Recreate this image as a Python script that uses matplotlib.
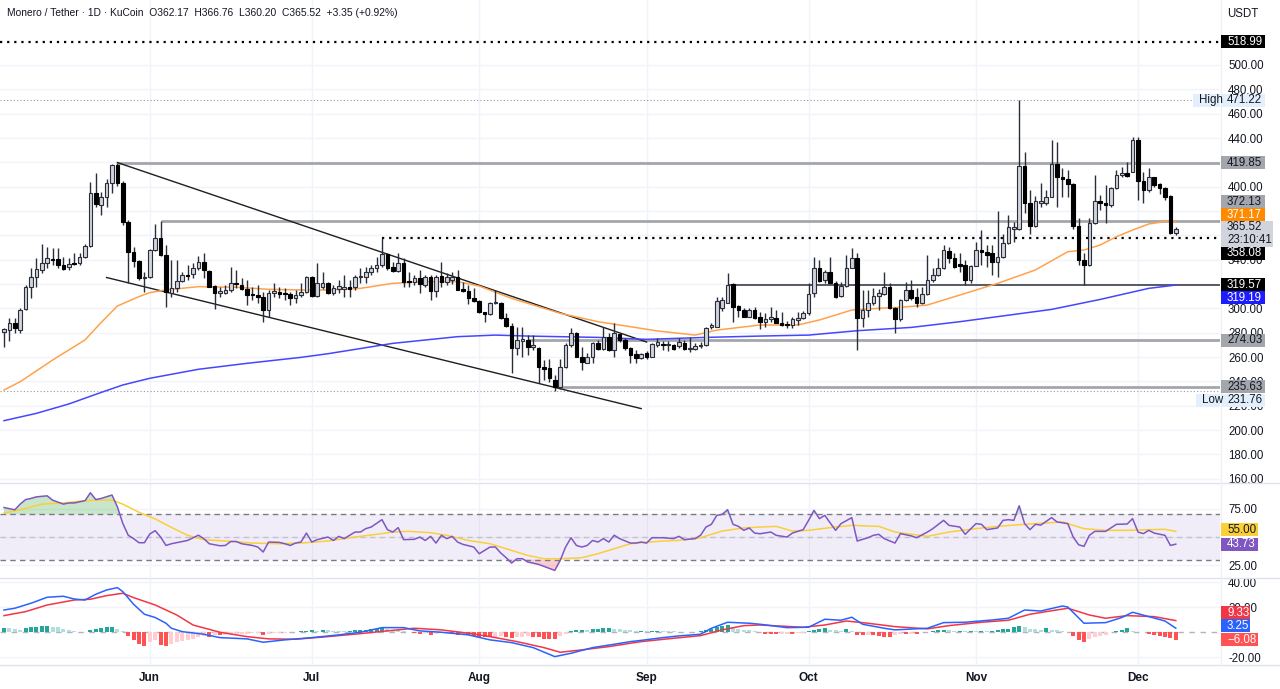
import numpy as np
import pandas as pd
import matplotlib
matplotlib.use('Agg')
import matplotlib.pyplot as plt
from matplotlib.lines import Line2D
from matplotlib.patches import Rectangle
from matplotlib.ticker import FixedLocator, FormatStrFormatter

plt.rcParams['font.family'] = ['Liberation Sans', 'DejaVu Sans']

start = '2025-05-05'

# daily OHLC, 5 May .. 8 Dec (one row per month)
opens = [
    280.7, 282.3, 287.8, 282.3, 299.3, 318.0, 326.0, 331.6, 337.1, 341.0, 340.4, 335.7, 333.8, 337.6, 337.0, 342.6, 351.3, 395.0, 385.0, 391.3, 402.8, 418.0, 402.8, 371.3, 346.7, 339.0, 325.0,
    325.6, 348.0, 357.6, 343.9, 313.0, 316.5, 322.8, 327.5, 328.3, 333.0, 338.4, 331.0, 318.4, 313.0, 312.4, 315.2, 321.0, 319.3, 315.7, 311.5, 310.8, 309.1, 298.7, 312.4, 313.8, 312.0, 311.9, 308.3, 311.1, 313.8,
    326.1, 310.5, 318.0, 320.6, 312.9, 315.7, 316.0, 318.0, 317.3, 325.5, 325.5, 330.2, 332.9, 335.7, 344.4, 334.3, 331.0, 337.6, 322.8, 322.0, 324.7, 319.2, 326.1, 314.6, 326.6, 322.0, 323.0, 325.5, 315.7, 314.3, 308.8,
    306.4, 296.8, 295.4, 304.2, 304.2, 291.8, 285.5, 267.2, 273.0, 274.0, 268.6, 267.2, 252.1, 250.8, 241.2, 235.7, 252.1, 269.9, 280.1, 260.3, 255.4, 259.8, 271.8, 266.4, 276.8, 265.8, 279.0, 274.0, 267.2, 262.3, 259.0,
    263.0, 260.3, 270.0, 270.5, 270.0, 269.9, 269.1, 271.8, 267.0, 266.9, 269.0, 270.0, 284.4, 285.0, 300.1, 304.2, 319.8, 302.0, 298.7, 293.2, 298.7, 292.6, 289.1, 291.0, 292.4, 287.7, 287.2, 286.4, 290.5, 292.4,
    295.9, 312.4, 332.9, 323.3, 330.2, 321.1, 310.2, 318.4, 333.5, 341.7, 292.4, 298.7, 304.2, 310.2, 311.8, 317.3, 300.1, 291.0, 306.9, 315.1, 309.1, 304.2, 311.8, 323.3, 327.4, 332.9, 347.4, 341.1, 336.5, 335.7, 323.3,
    334.9, 348.0, 346.6, 345.2, 338.4, 342.5, 353.5, 365.0, 365.0, 417.0, 386.9, 367.7, 386.3, 386.3, 391.8, 418.7, 407.7, 406.1, 402.2, 367.7, 339.8, 335.7, 369.9, 388.5, 386.3, 385.0, 398.7, 409.6, 411.5, 412.4,
    438.4, 404.9, 397.3, 407.7, 401.9, 398.7, 392.4, 362.17,
]
highs = [
    284.0, 292.0, 292.0, 300.0, 319.3, 333.0, 341.7, 353.0, 350.2, 349.4, 349.4, 342.6, 341.2, 345.3, 345.3, 353.0, 404.2, 411.0, 396.0, 406.1, 418.5, 419.85, 405.0, 372.7, 350.8, 339.8, 330.0,
    348.5, 369.4, 372.13, 352.0, 339.8, 339.8, 330.2, 335.7, 337.0, 343.0, 345.3, 331.6, 319.3, 317.9, 319.3, 333.8, 331.6, 324.8, 323.4, 317.9, 319.3, 313.8, 315.2, 320.6, 317.9, 316.5, 313.8, 315.2, 320.6, 326.7,
    326.7, 337.1, 330.0, 322.0, 319.2, 323.3, 327.4, 323.3, 327.4, 332.9, 334.3, 335.7, 342.5, 358.08, 345.2, 338.4, 345.2, 341.1, 330.2, 327.4, 331.6, 327.4, 327.4, 327.4, 338.4, 328.8, 330.0, 331.6, 322.0, 319.2, 316.5,
    306.9, 297.3, 305.5, 315.1, 305.5, 296.0, 287.7, 285.0, 285.0, 278.1, 278.0, 268.6, 257.6, 258.1, 245.3, 258.1, 271.3, 283.6, 280.9, 268.6, 263.1, 272.7, 274.0, 285.0, 280.1, 287.7, 280.1, 275.4, 268.6, 265.8, 263.1,
    265.0, 271.8, 275.4, 273.0, 273.0, 271.0, 275.4, 274.0, 276.8, 271.3, 272.7, 284.4, 288.0, 309.6, 309.1, 329.4, 320.6, 302.8, 300.1, 300.1, 301.4, 297.3, 295.9, 301.4, 298.7, 297.3, 290.0, 293.2, 297.3, 298.1,
    320.6, 342.5, 339.8, 331.6, 342.5, 322.8, 321.9, 343.9, 349.4, 345.2, 315.1, 315.1, 316.5, 315.7, 330.2, 321.1, 301.4, 307.5, 321.9, 323.3, 316.5, 317.9, 343.9, 332.9, 341.1, 352.1, 350.7, 345.8, 345.2, 339.8, 335.7,
    354.8, 364.4, 352.1, 352.1, 380.3, 361.1, 376.7, 371.3, 471.22, 428.8, 397.3, 392.4, 402.8, 397.3, 438.4, 437.0, 415.1, 413.7, 402.8, 374.0, 345.2, 374.0, 409.6, 393.2, 401.4, 400.0, 413.7, 416.5, 420.6, 441.1,
    441.1, 412.4, 415.1, 408.2, 402.8, 400.0, 393.2, 366.76,
]
lows = [
    268.0, 273.5, 279.6, 280.0, 298.7, 308.3, 317.9, 329.0, 333.0, 335.7, 333.0, 331.6, 331.6, 335.7, 335.7, 341.2, 350.8, 383.6, 376.8, 383.6, 394.6, 400.5, 368.6, 320.6, 334.3, 323.4, 313.8,
    324.8, 347.0, 343.0, 301.5, 309.7, 313.8, 322.0, 323.4, 324.8, 331.6, 324.8, 317.3, 299.3, 309.7, 311.9, 313.8, 316.5, 315.2, 302.9, 307.0, 304.2, 289.2, 293.3, 309.7, 308.3, 307.0, 302.9, 304.2, 309.7, 312.4,
    309.7, 309.7, 316.0, 312.0, 311.0, 312.4, 309.6, 309.1, 315.0, 320.6, 320.6, 327.4, 330.2, 334.3, 331.6, 330.2, 330.2, 317.9, 317.9, 319.2, 312.4, 317.9, 306.9, 309.6, 317.9, 319.2, 320.0, 315.1, 313.7, 303.6, 305.5,
    296.5, 289.1, 294.6, 303.5, 291.0, 285.0, 246.6, 261.7, 260.3, 261.7, 265.8, 238.4, 241.2, 239.8, 231.76, 233.5, 250.8, 268.6, 259.8, 249.4, 254.9, 254.9, 265.8, 265.8, 265.3, 260.3, 272.7, 265.8, 255.4, 254.9, 258.1,
    258.1, 259.8, 268.6, 265.5, 265.0, 265.5, 267.2, 265.8, 264.5, 265.8, 267.2, 269.1, 283.0, 284.4, 298.1, 304.2, 289.1, 293.2, 292.6, 292.6, 291.0, 282.8, 284.4, 289.1, 287.7, 285.3, 284.0, 283.6, 286.4, 291.0,
    294.6, 309.6, 322.0, 320.6, 321.1, 308.3, 309.6, 317.9, 333.0, 266.0, 285.0, 293.2, 302.8, 298.7, 311.0, 299.3, 279.5, 289.9, 306.4, 306.9, 300.9, 303.6, 311.0, 322.0, 326.6, 332.1, 337.0, 332.9, 330.2, 319.2, 321.1,
    334.9, 335.7, 334.3, 327.4, 326.1, 341.1, 352.9, 354.8, 364.4, 378.1, 361.1, 367.2, 383.6, 385.0, 391.3, 383.6, 391.8, 391.3, 365.0, 335.7, 319.6, 335.2, 369.4, 380.8, 369.9, 383.6, 397.8, 408.2, 407.7, 412.4,
    389.1, 386.3, 395.9, 399.5, 394.0, 389.1, 361.1, 360.20,
]
closes = [
    283.0, 287.8, 283.6, 298.7, 317.9, 326.0, 332.0, 337.1, 341.2, 340.0, 335.7, 332.4, 336.5, 336.5, 342.6, 351.6, 395.0, 385.8, 391.3, 402.8, 417.9, 402.8, 371.3, 346.7, 339.0, 324.8, 325.6,
    348.0, 357.6, 343.9, 313.8, 316.5, 322.8, 327.5, 327.0, 333.0, 338.4, 331.6, 317.9, 312.4, 314.0, 315.2, 320.6, 320.0, 315.7, 311.1, 311.0, 309.1, 298.7, 312.4, 314.6, 311.9, 311.5, 308.3, 311.1, 313.8, 326.1,
    310.5, 321.2, 321.0, 312.4, 316.5, 318.4, 318.0, 316.0, 325.5, 326.0, 330.2, 332.9, 335.7, 344.4, 332.9, 331.0, 337.6, 322.0, 321.7, 324.7, 320.0, 326.1, 314.6, 326.1, 322.0, 325.5, 326.0, 315.1, 314.3, 308.3, 306.4,
    296.8, 295.4, 304.2, 305.0, 291.8, 285.5, 267.2, 274.0, 274.5, 268.6, 270.0, 252.1, 250.0, 242.5, 235.7, 252.1, 269.9, 280.1, 260.3, 256.2, 259.8, 271.8, 266.4, 276.8, 265.8, 279.5, 274.0, 267.2, 261.7, 259.0, 262.3,
    260.3, 270.7, 272.7, 270.0, 270.5, 266.4, 272.1, 266.4, 267.5, 269.1, 269.5, 283.6, 286.4, 306.4, 306.9, 319.2, 300.9, 298.7, 293.2, 298.7, 291.8, 289.1, 291.0, 293.2, 288.3, 286.4, 286.1, 291.0, 292.4, 295.9,
    311.8, 332.9, 322.8, 330.2, 321.1, 309.6, 318.4, 333.5, 341.7, 292.4, 298.7, 304.2, 310.2, 312.9, 317.3, 300.1, 291.0, 306.9, 315.1, 308.3, 304.2, 311.8, 323.3, 327.4, 332.9, 348.0, 341.1, 334.3, 334.9, 323.3, 334.9,
    348.0, 346.6, 343.9, 338.4, 342.5, 353.5, 367.2, 367.2, 417.0, 386.9, 367.7, 388.3, 388.3, 391.8, 418.7, 407.7, 406.1, 402.2, 367.7, 339.8, 335.7, 369.9, 388.5, 386.3, 385.0, 398.7, 409.6, 411.5, 408.8, 438.4,
    404.9, 397.3, 407.7, 401.4, 398.7, 391.8, 362.17, 365.52,
]

# moving averages
ma50_dates = ['2025-05-05', '2025-05-08', '2025-05-14', '2025-05-20', '2025-05-23', '2025-05-26', '2025-05-30',
              '2025-06-01', '2025-06-04', '2025-06-10', '2025-06-17', '2025-06-23', '2025-06-29', '2025-07-04',
              '2025-07-10', '2025-07-16', '2025-07-22', '2025-07-28', '2025-08-01', '2025-08-07', '2025-08-13',
              '2025-08-16', '2025-08-23', '2025-08-29', '2025-09-03', '2025-09-10', '2025-09-14', '2025-09-22',
              '2025-09-29', '2025-10-03', '2025-10-09', '2025-10-14', '2025-10-18', '2025-10-23', '2025-10-29',
              '2025-11-05', '2025-11-12', '2025-11-18', '2025-11-21', '2025-11-24', '2025-11-27', '2025-11-30',
              '2025-12-03', '2025-12-06', '2025-12-08']
ma50_vals = [233.0, 239.8, 257.6, 274.1, 288.5, 302.0, 309.7, 313.0, 315.2, 317.9, 317.4, 315.7, 315.2, 315.1,
             316.5, 320.6, 322.0, 322.0, 318.4, 308.3, 300.1, 296.0, 289.1, 285.0, 281.5, 278.1, 282.2, 286.4,
             286.4, 290.5, 298.7, 300.1, 300.9, 302.8, 311.0, 320.6, 331.6, 346.6, 348.0, 352.1, 358.9, 364.4,
             369.4, 371.3, 371.17]
ma200_dates = ['2025-05-05', '2025-05-11', '2025-05-17', '2025-05-23', '2025-05-27', '2025-06-01', '2025-06-10',
               '2025-06-19', '2025-06-29', '2025-07-04', '2025-07-16', '2025-07-28', '2025-08-04', '2025-08-10',
               '2025-08-23', '2025-09-01', '2025-09-12', '2025-09-22', '2025-10-01', '2025-10-10', '2025-10-20',
               '2025-10-29', '2025-11-15', '2025-11-24', '2025-12-03', '2025-12-08']
ma200_vals = [207.8, 213.8, 221.5, 231.0, 237.1, 242.6, 250.0, 254.9, 259.8, 262.8, 271.3, 276.8, 278.1, 277.3,
              276.2, 274.6, 276.2, 277.3, 278.1, 281.7, 284.4, 289.1, 299.2, 307.4, 316.5, 319.19]

# RSI (days since 5 May)
rsi_days = [0, 1, 2, 3, 4, 5, 6, 8, 9, 11, 12, 13, 15, 16, 17, 18, 20, 21, 22, 23, 24, 25, 26, 27, 28, 29, 30, 31,
            33, 34, 36, 37, 38, 40, 41, 42, 43, 44, 46, 47, 48, 49, 51, 52, 53, 54, 55, 56, 57, 58, 60, 61, 62, 63,
            65, 66, 67, 68, 70, 71, 72, 73, 74, 76, 77, 78, 79, 80, 81, 82, 83, 84, 85, 87, 88, 90, 91, 92, 93, 94,
            95, 96, 97, 99, 100, 102, 103, 104, 105, 106, 107, 108, 109, 110, 111, 112, 113, 114, 116, 117, 118, 119,
            120, 122, 124, 125, 126, 128, 129, 130, 131, 132, 133, 134, 135, 136, 137, 138, 139, 140, 142, 143, 145,
            146, 148, 149, 150, 151, 152, 153, 154, 155, 157, 158, 160, 161, 162, 163, 165, 166, 168, 169, 171, 172,
            174, 175, 177, 178, 180, 181, 182, 184, 185, 186, 187, 188, 189, 190, 191, 192, 194, 195, 197, 198, 199,
            200, 201, 202, 204, 206, 208, 209, 210, 211, 212, 213, 215, 216, 217]
rsi_vals = [76, 75, 74, 79, 83, 84, 85.4, 86.3, 82.5, 79, 80, 80, 82, 89, 83, 84, 87, 76.6, 62, 51.6, 48.6, 45, 45,
            52.7, 55.6, 50, 42.6, 44.1, 46.1, 47, 51.6, 48.6, 44.1, 42.3, 42.6, 46.1, 46.1, 44.1, 42.6, 41.2, 36.8,
            45.6, 45.3, 44.1, 42.6, 44.7, 45.6, 53.5, 45.6, 47.7, 50, 47, 50.6, 48.6, 54.4, 54.4, 57.4, 58.8, 65.3,
            56.5, 54.4, 58.3, 47.7, 48, 50, 47, 50.6, 44.7, 51.5, 48.6, 50.6, 45.6, 43.5, 41.2, 35.3, 41.2, 41.2,
            35.9, 31.8, 27.1, 30.9, 30.9, 28, 25.9, 24.1, 20.6, 29.4, 41.2, 49.4, 42.6, 41.2, 42.6, 47, 45.6, 48.6,
            45.6, 51.6, 48.6, 44.7, 44.7, 45.6, 44.7, 49.4, 49.4, 48.6, 50.6, 47.7, 48.6, 51.6, 58.8, 61.2, 69.1, 70,
            74.1, 61.2, 59.4, 55.9, 58, 53.5, 52.9, 54.4, 51.5, 50, 53.5, 56.5, 64.7, 73.5, 66.2, 69.1, 62.4, 55.9,
            61.8, 67.1, 46.5, 49.4, 51.5, 52.4, 48.6, 44.7, 53, 51, 49.4, 54.4, 57.4, 64.7, 60.3, 58.8, 52.4, 61.8,
            61.2, 56.5, 58, 64.7, 65.3, 64.7, 77.6, 61.8, 56.5, 61.2, 60.5, 67.1, 63.3, 61.8, 50, 43.2, 41.8, 51.5,
            55, 55, 61.2, 61.5, 66.2, 54.4, 53, 55.9, 53.5, 51.5, 42.6, 43.73]
rsi_ma_days = [0, 3, 7, 11, 14, 17, 20, 22, 25, 28, 31, 34, 37, 41, 46, 51, 55, 60, 64, 69, 72, 75, 79, 82, 86, 90,
               94, 97, 100, 103, 107, 110, 113, 116, 118, 122, 125, 129, 133, 137, 140, 143, 146, 149, 153, 157,
               162, 165, 171, 175, 180, 184, 189, 193, 196, 200, 204, 208, 212, 215, 217]
rsi_ma_vals = [71.2, 74, 79, 80, 81.6, 82.5, 82.5, 79, 71.8, 65.9, 58.5, 51.5, 47.7, 46.5, 44.7, 44.1, 44.7, 46.5,
               49.4, 52.4, 54.4, 55, 53.8, 51.5, 47, 44.1, 38.2, 33.8, 30.9, 30.9, 31.8, 35.3, 39.7, 44.1, 45, 46.5,
               47, 49.4, 55.3, 58, 58.8, 59.4, 55.3, 55.9, 58.3, 60.3, 59.4, 54.4, 50.6, 54.4, 57.4, 59.4, 61.2,
               62.4, 63.3, 57.4, 55.9, 55.9, 56.5, 56.8, 55.0]

# MACD
macd_days = [0, 2, 5, 8, 11, 13, 15, 17, 19, 21, 22, 24, 26, 28, 30, 31, 33, 37, 40, 45, 48, 52, 57, 62, 66, 70,
             74, 77, 81, 86, 90, 94, 98, 102, 105, 109, 113, 116, 118, 122, 125, 129, 131, 134, 138, 140, 145, 149,
             152, 155, 157, 159, 163, 165, 171, 174, 178, 183, 186, 189, 192, 196, 197, 200, 204, 207, 209, 212,
             215, 217]
macd_vals = [17.8, 19.2, 23.2, 28, 28.8, 26.6, 25.8, 30.4, 33.8, 35.7, 32.5, 22.4, 14.4, 11.8, 7.2, 3.2, 0.5, -1.6,
             -4.3, -5.3, -8, -6.1, -4.3, -2.1, 0, 3.7, 3.7, 1.1, 0, -2.1, -6.1, -8.3, -12.3, -19.5, -16.8, -12.3,
             -9.6, -7.5, -6.5, -4.3, -2.9, -1.6, 3.2, 8, 7.2, 6.4, 3.7, 4, 10.4, 9.6, 12, 6.4, 3.2, 1.9, 3.2, 7.7,
             8, 9.8, 11.2, 17.8, 17, 21, 20.2, 7.2, 7.7, 11.8, 16, 12.5, 9, 3.25]
signal_days = [0, 4, 8, 13, 16, 19, 22, 24, 28, 32, 35, 40, 45, 49, 54, 60, 66, 71, 76, 81, 86, 90, 95, 100, 103,
               107, 112, 116, 118, 124, 129, 133, 137, 140, 148, 152, 156, 160, 165, 171, 175, 181, 186, 190, 193,
               197, 201, 204, 208, 213, 217]
signal_vals = [13.3, 16.5, 21.8, 25.8, 26.4, 29.3, 31.2, 27.7, 21.8, 13.8, 5.8, 0, -3.5, -5.3, -5.6, -3.5, -1.1,
               1.1, 3.2, 1.9, -0.8, -3.5, -7.5, -12.3, -16, -14.1, -11.5, -8.8, -7.5, -4.8, -2.7, 1.9, 5.3, 5.8, 4,
               5.8, 9, 7.2, 4.5, 2.7, 5.3, 8, 9.6, 14.4, 16.5, 19.2, 13.8, 11.2, 13.3, 12.5, 9.33]
hist_vals = [
    3.7, 3.5, 2.5, 2.0, 3.2, 4.0, 4.5, 5.0, 5.0, 4.5, 4.0, 3.0, 1.5, 0.8, 0.3, 0.1, 1.5, 2.5, 3.5, 4.0,
    4.5, 2.5, 1.0, -3.0, -6.0, -9.0, -11.0, -8.0, -6.0, -10.0, -11.0, -9.0, -8.0, -7.0, -6.0, -5.0, -4.0, -3.0, -3.5, -2.0,
    -2.5, -2.0, -1.8, -1.5, -1.2, -1.0, -0.8, -0.6, -2.0, -1.0, -0.6, -0.4, -0.3, 0.3, 0.5, 0.8, 1.2, 1.5, 1.2, 2.0,
    1.5, 1.2, 1.0, 0.8, 1.2, 1.5, 2.0, 2.2, 2.6, 3.0, 3.2, 2.5, 2.0, 1.5, 1.0, 0.5, -0.5, -1.0, -0.8, -2.0,
    -1.0, -0.8, -0.6, -1.2, -1.8, -1.5, -2.0, -3.0, -3.5, -4.0, -4.0, -3.5, -3.0, -4.0, -4.5, -3.8, -3.5, -3.0, -3.5, -4.0,
    -5.0, -5.0, -5.2, -3.0, -1.0, 1.0, 1.5, 2.0, 1.8, 2.5, 3.0, 3.2, 3.5, 3.0, 2.5, 2.0, 1.5, 1.0, 1.2, 0.8,
    1.0, 1.2, 1.0, 0.8, 0.7, 0.6, 0.5, 0.6, 0.5, 1.0, 2.0, 3.0, 4.0, 5.0, 5.8, 4.0, 3.0, 2.0, 1.5, 1.0,
    0.5, -1.0, -1.2, -1.5, -1.3, -1.0, -1.5, -0.5, -0.3, 1.0, 2.0, 3.0, 3.2, 2.0, 1.5, 1.2, 3.0, 1.0, -2.0, -2.5,
    -2.0, -2.5, -3.0, -3.5, -3.5, -2.0, -1.5, -1.5, -1.2, -1.5, 0.5, 0.6, 1.0, 1.5, 2.0, 1.5, 1.0, 1.0, 0.8, 1.0,
    0.8, 1.0, 0.8, 1.0, 2.0, 2.5, 3.0, 4.0, 5.0, 4.0, 3.0, 2.5, 2.0, 3.5, 2.0, 1.5, 1.0, 0.5, -3.0, -6.0,
    -8.0, -5.0, -4.0, -3.0, -2.0, 0.5, 1.0, 2.0, 3.2, 1.0, 0.5, 0.3, -1.0, -2.0, -3.0, -4.0, -4.5, -6.08,
]

# drawn levels: (start date, price, kind)
levels = [('2025-05-26', 419.85, 'gray'), ('2025-06-03', 372.13, 'gray'), ('2025-07-14', 358.08, 'dots'),
          ('2025-09-16', 319.57, 'black'), ('2025-08-10', 274.03, 'gray'), ('2025-08-16', 235.63, 'gray')]
upper_trend = [('2025-05-26', 419.85), ('2025-09-01', 272.4)]
lower_trend = [('2025-05-24', 325.4), ('2025-08-31', 217.7)]
month_names = ['Jun', 'Jul', 'Aug', 'Sep', 'Oct', 'Nov', 'Dec']
month_dates = ['2025-06-01', '2025-07-01', '2025-08-01', '2025-09-01', '2025-10-01', '2025-11-01', '2025-12-01']


def day(s):
    return (pd.Timestamp(s) - pd.Timestamp(start)).days


o = np.array(opens); h = np.array(highs); l = np.array(lows); c = np.array(closes)
x = np.arange(len(c))

W, H = 1280, 689
fig = plt.figure(figsize=(W / 100, H / 100), dpi=100)
fig.patch.set_facecolor('white')
PW = 1220
XR = (PW - 4) / 5.4


def pane(top, bottom):
    a = fig.add_axes([0, 1 - bottom / H, PW / W, (bottom - top) / H])
    a.set_xlim(-0.74, XR)
    for s in a.spines.values():
        s.set_visible(False)
    a.yaxis.tick_right()
    a.tick_params(axis='y', length=0, pad=5.8, labelsize=8.3, labelcolor='#131722')
    a.tick_params(axis='x', length=0)
    a.set_xticks([])
    for m in month_dates:
        a.axvline(day(m), color='#f0f3fa', lw=1, zorder=0)
    return a


ax = pane(0, 482)
ax_rsi = pane(483, 577)
ax_macd = pane(578, 664)

# ---- price pane
ax.set_ylim(157.4, 553.4)
ax.yaxis.set_major_locator(FixedLocator(np.arange(160, 501, 20)))
ax.yaxis.set_major_formatter(FormatStrFormatter('%.2f'))
for v in np.arange(160, 501, 20):
    ax.axhline(v, color='#f0f3fa', lw=1, zorder=0)

ax.axhline(518.99, color='#000000', lw=1.6, ls=(0, (1, 2.2)), zorder=1)
ax.axhline(471.22, color='#9598a1', lw=0.8, ls=(0, (1, 2)), zorder=1)
ax.axhline(231.76, color='#9598a1', lw=0.8, ls=(0, (1, 2)), zorder=1)
for d, p, kind in levels:
    if kind == 'gray':
        ax.hlines(p, day(d), XR, color='#a3a6ad', lw=2, zorder=1)
    elif kind == 'black':
        ax.hlines(p, day(d), XR, color='#2a2e39', lw=1.1, zorder=1)
    else:
        ax.hlines(p, day(d), XR, color='#000000', lw=1.6, ls=(0, (1, 2.2)), zorder=1)

for tr in (upper_trend, lower_trend):
    ax.plot([day(tr[0][0]), day(tr[1][0])], [tr[0][1], tr[1][1]], color='#1e1e1e', lw=1, zorder=1.5)

ax.plot([day(d) for d in ma50_dates], ma50_vals, color='#ffa24c', lw=1.1, zorder=1.8)
ax.plot([day(d) for d in ma200_dates], ma200_vals, color='#4646ff', lw=1.1, zorder=1.8)

up = c >= o
body_lo = np.minimum(o, c)
body_h = np.maximum(np.abs(c - o), 0.8)
ax.vlines(x, l, h, color='#2a2e39', lw=1, zorder=2)
ax.bar(x[up], body_h[up], bottom=body_lo[up], width=0.64, color='#d1d4dc', edgecolor='#2a2e39', lw=0.8, zorder=3)
ax.bar(x[~up], body_h[~up], bottom=body_lo[~up], width=0.64, color='#000000', edgecolor='#000000', lw=0.8, zorder=3)

# ---- RSI pane
ax_rsi.set_ylim(14.8, 97.6)
ax_rsi.yaxis.set_major_locator(FixedLocator([25, 75]))
ax_rsi.yaxis.set_major_formatter(FormatStrFormatter('%.2f'))
for v in (25, 50, 75):
    ax_rsi.axhline(v, color='#f0f3fa', lw=1, zorder=0)
ax_rsi.axhspan(30, 70, color='#7e57c2', alpha=0.1, lw=0)
ax_rsi.axhline(70, color='#787b86', lw=1, ls=(0, (4, 3)))
ax_rsi.axhline(30, color='#787b86', lw=1, ls=(0, (4, 3)))
ax_rsi.axhline(50, color='#b2b5be', lw=1, ls=(0, (4, 3)), alpha=0.7)
rd = np.array(rsi_days); rv = np.array(rsi_vals)
ax_rsi.fill_between(rd, rv, 70, where=rv > 70, interpolate=True, color='#4caf50', alpha=0.3, lw=0)
ax_rsi.fill_between(rd, rv, 30, where=rv < 30, interpolate=True, color='#f23645', alpha=0.25, lw=0)
ax_rsi.plot(rsi_ma_days, rsi_ma_vals, color='#f9cf3a', lw=1.1)
ax_rsi.plot(rd, rv, color='#7e57c2', lw=1.1)

# ---- MACD pane
ax_macd.set_ylim(-25.4, 43.4)
ax_macd.yaxis.set_major_locator(FixedLocator([-20, 20, 40]))
ax_macd.yaxis.set_major_formatter(FormatStrFormatter('%.2f'))
for v in (-20, 20, 40):
    ax_macd.axhline(v, color='#f0f3fa', lw=1, zorder=0)
ax_macd.axhline(0, color='#b2b5be', lw=1, ls=(0, (4, 4)))
hv = np.array(hist_vals)
prev = np.concatenate([[hv[0]], hv[:-1]])
cols = np.where(hv >= 0, np.where(hv >= prev, '#26a69a', '#b2dfdb'),
                np.where(hv <= prev, '#ff5252', '#ffcdd2'))
ax_macd.bar(x, hv, width=0.72, color=cols, lw=0, zorder=2)
ax_macd.plot(signal_days, signal_vals, color='#f23645', lw=1.1, zorder=3)
ax_macd.plot(macd_days, macd_vals, color='#2962ff', lw=1.1, zorder=3)

ax_macd.set_xticks([day(m) for m in month_dates])
ax_macd.set_xticklabels(month_names, fontsize=8.5, color='#131722', fontweight='bold')
ax_macd.tick_params(axis='x', pad=6)


# ---- price tags on the right scale (pixel layout)
def tag(a, val, lines, bg, fg='white', dy=0, w=44, left=1221):
    yc = a.transData.transform((0, val))[1] + dy
    hh = 13 * len(lines)
    fig.add_artist(Rectangle((left / W, (yc - hh / 2) / H), w / W, hh / H, transform=fig.transFigure,
                             fc=bg, ec='none', zorder=5))
    for k, t in enumerate(lines):
        ty = yc + (len(lines) - 1) * 6.5 - k * 13
        fig.text((left + 6) / W, ty / H, t, ha='left', va='center', fontsize=8.3, color=fg, zorder=6)


tag(ax, 518.99, ['518.99'], '#000000')
tag(ax, 471.22, ['471.22'], '#e3effd', '#131722')
tag(ax, 471.22, ['High'], '#e3effd', '#131722', w=27, left=1193)
tag(ax, 419.85, ['419.85'], '#a3a6ad', '#131722')
tag(ax, 372.13, ['372.13'], '#a3a6ad', '#131722', dy=19)
tag(ax, 371.17, ['371.17'], '#ff8a00', 'white', dy=7.3)
tag(ax, 365.52, ['365.52', '23:10:41'], '#d1d4dc', '#131722', dy=-5.3, w=52)
tag(ax, 358.08, ['358.08'], '#000000', dy=-15.6)
tag(ax, 319.57, ['319.57'], '#000000')
tag(ax, 319.19, ['319.19'], '#1c1cff', dy=-12.8)
tag(ax, 274.03, ['274.03'], '#a3a6ad', '#131722')
tag(ax, 235.63, ['235.63'], '#a3a6ad', '#131722')
tag(ax, 231.76, ['231.76'], '#e3effd', '#131722', dy=-9)
tag(ax, 231.76, ['Low'], '#e3effd', '#131722', dy=-9, w=24, left=1196)
tag(ax_rsi, 55.0, ['55.00'], '#f9cf3a', '#131722', dy=1.5, w=37)
tag(ax_rsi, 43.73, ['43.73'], '#7e57c2', w=37)
tag(ax_macd, 9.33, ['9.33'], '#f23645', dy=7.6, w=29)
tag(ax_macd, 3.25, ['3.25'], '#2962ff', dy=2.4, w=29)
tag(ax_macd, -6.08, ['\u22126.08'], '#ff5252', w=37)

# separators and header
for yy in (482.5, 577.5, 664.5):
    fig.add_artist(Line2D([0, 1], [1 - yy / H] * 2, transform=fig.transFigure, color='#e0e3eb', lw=1))
fig.add_artist(Line2D([(PW + 0.5) / W] * 2, [1 - 664.5 / H, 1], transform=fig.transFigure, color='#eef0f4', lw=1))
fig.text(7 / W, 1 - 13 / H, 'Monero / Tether \u00b7 1D \u00b7 KuCoin  O362.17  H366.76  L360.20  C365.52  +3.35 (+0.92%)',
         fontsize=7.4, color='#131722', va='center', ha='left')
fig.text(1243 / W, 1 - 14 / H, 'USDT', fontsize=8.3, color='#131722', va='center', ha='center')

fig.savefig('out.png', dpi=100)
